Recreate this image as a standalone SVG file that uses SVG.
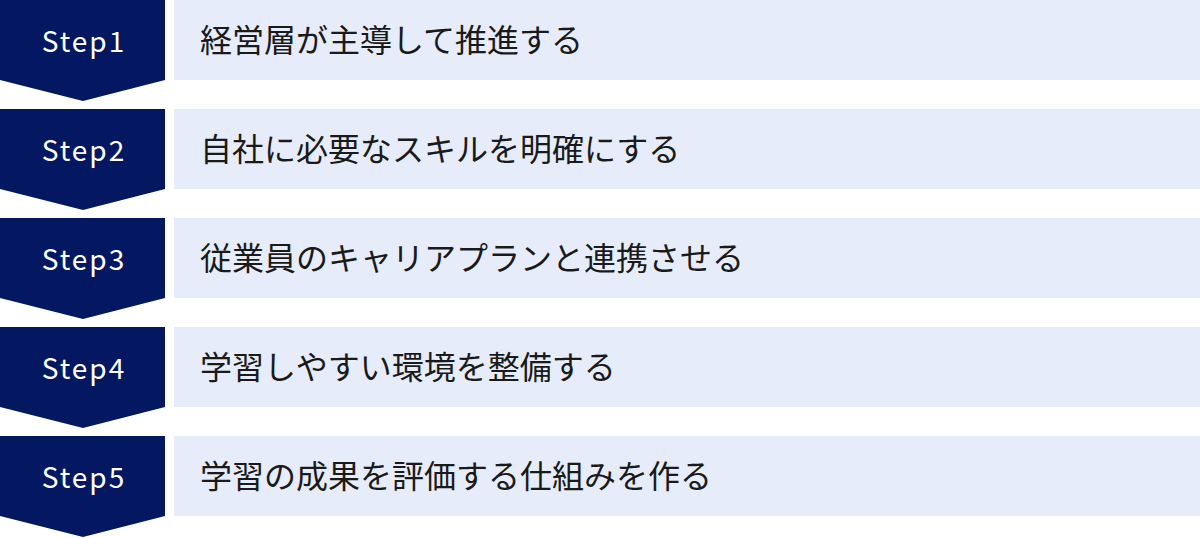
<svg xmlns="http://www.w3.org/2000/svg" width="1200" height="538" viewBox="0 0 1200 538">
<style>
.chev{fill:#041862}
.bar{fill:#e6ecf9}
.step{font-family:"Noto Sans CJK JP","Noto Sans",sans-serif;font-size:28px;font-weight:400;fill:#ffffff;text-anchor:middle;letter-spacing:2px}
.label{font-family:"Noto Sans CJK JP","Noto Sans",sans-serif;font-size:32px;fill:#1a1a1a}
</style>
<defs>
<path id="chevron" d="M0 0H165V80L83 101L0 80Z"/>
</defs>
<g id="step1" transform="translate(0,0)">
<use href="#chevron" class="chev"/>
<rect class="bar" x="174" y="0" width="1026" height="80"/>
<text class="step" x="84" y="52">Step1</text>
<text class="label" x="200" y="52">経営層が主導して推進する</text>
</g>
<g id="step2" transform="translate(0,109)">
<use href="#chevron" class="chev"/>
<rect class="bar" x="174" y="0" width="1026" height="80"/>
<text class="step" x="84" y="52">Step2</text>
<text class="label" x="200" y="52">自社に必要なスキルを明確にする</text>
</g>
<g id="step3" transform="translate(0,218)">
<use href="#chevron" class="chev"/>
<rect class="bar" x="174" y="0" width="1026" height="80"/>
<text class="step" x="84" y="52">Step3</text>
<text class="label" x="200" y="52">従業員のキャリアプランと連携させる</text>
</g>
<g id="step4" transform="translate(0,327)">
<use href="#chevron" class="chev"/>
<rect class="bar" x="174" y="0" width="1026" height="80"/>
<text class="step" x="84" y="52">Step4</text>
<text class="label" x="200" y="52">学習しやすい環境を整備する</text>
</g>
<g id="step5" transform="translate(0,436)">
<use href="#chevron" class="chev"/>
<rect class="bar" x="174" y="0" width="1026" height="80"/>
<text class="step" x="84" y="52">Step5</text>
<text class="label" x="200" y="52">学習の成果を評価する仕組みを作る</text>
</g>
<g id="connectors"></g>
</svg>
